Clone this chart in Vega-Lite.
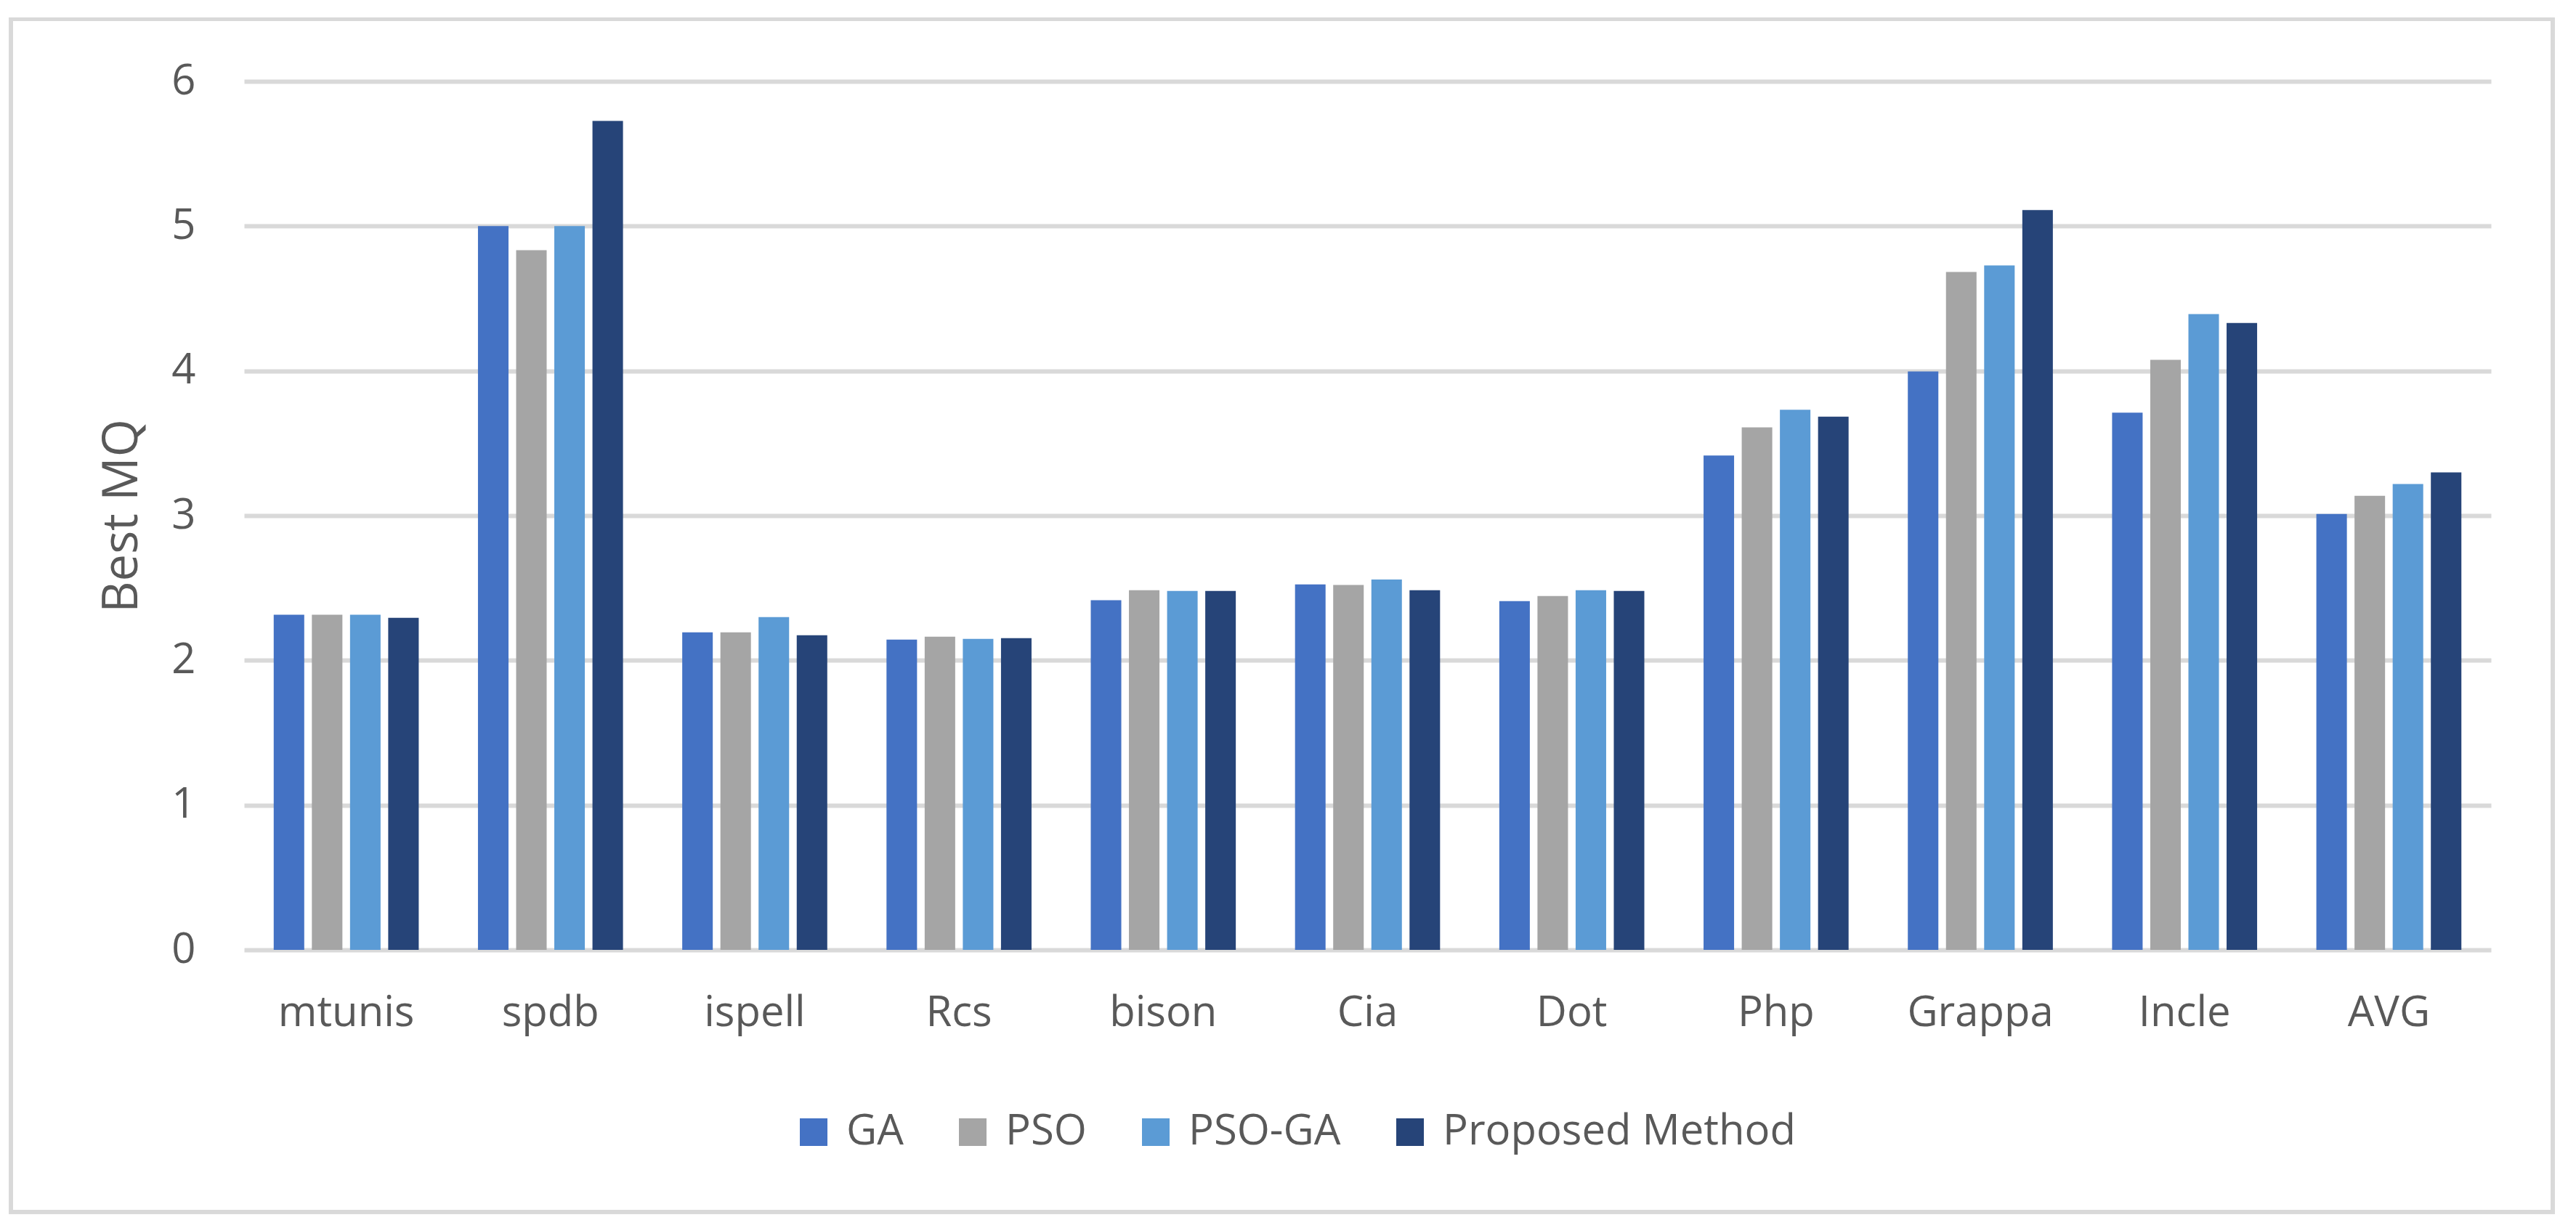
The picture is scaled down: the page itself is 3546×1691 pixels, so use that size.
{
  "$schema": "https://vega.github.io/schema/vega-lite/v6.json",
  "width": 3093,
  "height": 1196,
  "autosize": {"type": "none"},
  "padding": {"left": 336, "top": 112, "right": 117, "bottom": 383},
  "background": "white",
  "config": {
    "font": "Open Sans",
    "view": {"stroke": null}
  },
  "data": {
    "values": [
      {"dataset": "mtunis", "method": "GA", "mq": 2.315},
      {"dataset": "mtunis", "method": "PSO", "mq": 2.315},
      {"dataset": "mtunis", "method": "PSO-GA", "mq": 2.315},
      {"dataset": "mtunis", "method": "Proposed Method", "mq": 2.294},
      {"dataset": "spdb", "method": "GA", "mq": 5.0},
      {"dataset": "spdb", "method": "PSO", "mq": 4.833},
      {"dataset": "spdb", "method": "PSO-GA", "mq": 5.0},
      {"dataset": "spdb", "method": "Proposed Method", "mq": 5.727},
      {"dataset": "ispell", "method": "GA", "mq": 2.194},
      {"dataset": "ispell", "method": "PSO", "mq": 2.194},
      {"dataset": "ispell", "method": "PSO-GA", "mq": 2.299},
      {"dataset": "ispell", "method": "Proposed Method", "mq": 2.173},
      {"dataset": "Rcs", "method": "GA", "mq": 2.144},
      {"dataset": "Rcs", "method": "PSO", "mq": 2.164},
      {"dataset": "Rcs", "method": "PSO-GA", "mq": 2.149},
      {"dataset": "Rcs", "method": "Proposed Method", "mq": 2.153},
      {"dataset": "bison", "method": "GA", "mq": 2.415},
      {"dataset": "bison", "method": "PSO", "mq": 2.485},
      {"dataset": "bison", "method": "PSO-GA", "mq": 2.48},
      {"dataset": "bison", "method": "Proposed Method", "mq": 2.48},
      {"dataset": "Cia", "method": "GA", "mq": 2.525},
      {"dataset": "Cia", "method": "PSO", "mq": 2.521},
      {"dataset": "Cia", "method": "PSO-GA", "mq": 2.559},
      {"dataset": "Cia", "method": "Proposed Method", "mq": 2.485},
      {"dataset": "Dot", "method": "GA", "mq": 2.409},
      {"dataset": "Dot", "method": "PSO", "mq": 2.445},
      {"dataset": "Dot", "method": "PSO-GA", "mq": 2.485},
      {"dataset": "Dot", "method": "Proposed Method", "mq": 2.48},
      {"dataset": "Php", "method": "GA", "mq": 3.415},
      {"dataset": "Php", "method": "PSO", "mq": 3.61},
      {"dataset": "Php", "method": "PSO-GA", "mq": 3.731},
      {"dataset": "Php", "method": "Proposed Method", "mq": 3.684},
      {"dataset": "Grappa", "method": "GA", "mq": 3.996},
      {"dataset": "Grappa", "method": "PSO", "mq": 4.683},
      {"dataset": "Grappa", "method": "PSO-GA", "mq": 4.728},
      {"dataset": "Grappa", "method": "Proposed Method", "mq": 5.111},
      {"dataset": "Incle", "method": "GA", "mq": 3.711},
      {"dataset": "Incle", "method": "PSO", "mq": 4.076},
      {"dataset": "Incle", "method": "PSO-GA", "mq": 4.392},
      {"dataset": "Incle", "method": "Proposed Method", "mq": 4.331},
      {"dataset": "AVG", "method": "GA", "mq": 3.011},
      {"dataset": "AVG", "method": "PSO", "mq": 3.137},
      {"dataset": "AVG", "method": "PSO-GA", "mq": 3.218},
      {"dataset": "AVG", "method": "Proposed Method", "mq": 3.298}
    ]
  },
  "layer": [
    {
      "mark": {"type": "bar"},
      "encoding": {
        "x": {
          "field": "dataset",
          "type": "nominal",
          "sort": ["mtunis", "spdb", "ispell", "Rcs", "bison", "Cia", "Dot", "Php", "Grappa", "Incle", "AVG"],
          "scale": {"paddingInner": 0.29, "paddingOuter": 0.145},
          "axis": {
            "title": null,
            "labelAngle": 0,
            "labelFontSize": 58,
            "labelColor": "#595959",
            "labelPadding": 58,
            "labelLimit": 1000,
            "ticks": false,
            "domain": false,
            "grid": false
          }
        },
        "xOffset": {
          "field": "method",
          "type": "nominal",
          "sort": ["GA", "PSO", "PSO-GA", "Proposed Method"],
          "scale": {"paddingInner": 0.2, "paddingOuter": 0}
        },
        "y": {
          "field": "mq",
          "type": "quantitative",
          "scale": {"domain": [0, 6], "nice": false},
          "axis": {
            "title": "Best MQ",
            "titleFontSize": 67,
            "titleFontWeight": "normal",
            "titleColor": "#595959",
            "titleX": -168,
            "titleY": 598,
            "titleAlign": "center",
            "titleBaseline": "middle",
            "titleAngle": -90,
            "values": [0, 1, 2, 3, 4, 5, 6],
            "labelFontSize": 58,
            "labelColor": "#595959",
            "labelPadding": 67,
            "ticks": false,
            "domain": false,
            "grid": true,
            "gridColor": "#D9D9D9",
            "gridWidth": 6
          }
        },
        "color": {
          "field": "method",
          "type": "nominal",
          "sort": ["GA", "PSO", "PSO-GA", "Proposed Method"],
          "scale": {
            "domain": ["GA", "PSO", "PSO-GA", "Proposed Method"],
            "range": ["#4472C4", "#A5A5A5", "#5B9BD5", "#264478"]
          },
          "legend": {
            "title": null,
            "orient": "none",
            "direction": "horizontal",
            "legendX": 755,
            "legendY": 1418,
            "symbolType": "square",
            "symbolSize": 1444,
            "symbolStrokeWidth": 0,
            "labelFontSize": 58,
            "labelColor": "#595959",
            "labelOffset": 16,
            "columnPadding": 66,
            "labelLimit": 1000
          }
        }
      }
    },
    {
      "mark": {"type": "rect", "fill": null, "stroke": "#D9D9D9", "strokeWidth": 5, "clip": false},
      "encoding": {
        "x": {"datum": -0.1038, "type": "quantitative", "scale": {"domain": [0, 1], "zero": false, "nice": false}, "axis": null},
        "x2": {"datum": 1.0275},
        "y": {"datum": -1.81, "type": "quantitative", "scale": {"domain": [0, 6], "nice": false}, "axis": null},
        "y2": {"datum": 6.429}
      }
    }
  ],
  "resolve": {"scale": {"x": "independent"}, "axis": {"x": "independent", "y": "independent"}}
}
